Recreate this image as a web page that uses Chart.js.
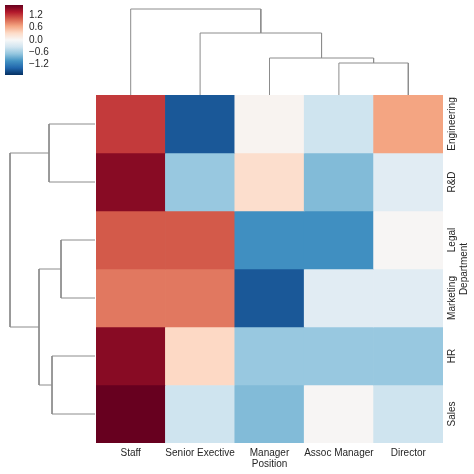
<!DOCTYPE html>
<html><head><meta charset="utf-8">
<script src="https://cdn.jsdelivr.net/npm/chart.js@4/dist/chart.umd.min.js"></script>
<style>
html,body{margin:0;padding:0;background:#fff;width:474px;height:474px;overflow:hidden}
canvas{position:absolute}
</style></head><body>
<canvas id="main" width="474" height="474" style="left:0;top:0"></canvas>
<canvas id="top" width="347" height="95" style="left:96px;top:0"></canvas>
<canvas id="left" width="95" height="348" style="left:0;top:95px"></canvas>
<canvas id="cbar" width="60" height="94" style="left:0;top:-7px"></canvas>
<script>
const positions = ["Staff","Senior Exective","Manager","Assoc Manager","Director"];
const departments = ["Engineering","R&D","Legal","Marketing","HR","Sales"];
const engineering = [1.2,-1.45,0.05,-0.35,0.68];
const rnd = [1.55,-0.65,0.3,-0.75,-0.2];
const legal = [1.05,1.05,-1.05,-1.05,0.02];
const marketing = [0.9,0.9,-1.45,-0.2,-0.2];
const hr = [1.55,0.35,-0.65,-0.65,-0.65];
const sales = [1.7,-0.35,-0.75,0.02,-0.35];
const rows = [engineering,rnd,legal,marketing,hr,sales];
const colorTicks = [-1.2,-0.6,0.0,0.6,1.2];
const vmin = -1.7, vmax = 1.7;
const colMerges = [[3,4,32],[2,"m0",37],[1,"m1",62],[0,"m2",86]];
const rowMerges = [[0,1,46],[2,3,34],[4,5,43],["m1","m2",56],["m0","m3",85]];

const FONT = "'Liberation Sans', Arial, sans-serif";
const TXT = "#262626";
const RdBu = ["#053061","#2166ac","#4393c3","#92c5de","#d1e5f0","#f7f7f7","#fddbc7","#f4a582","#d6604d","#b2182b","#67001f"];
function hex(h){return [1,3,5].map(i=>parseInt(h.substr(i,2),16));}
function cmap(v){
  let t=(v-vmin)/(vmax-vmin); t=Math.max(0,Math.min(1,t));
  const p=t*(RdBu.length-1), i=Math.min(RdBu.length-2,Math.floor(p)), f=p-i;
  const a=hex(RdBu[i]), b=hex(RdBu[i+1]);
  return "rgb("+a.map((c,k)=>Math.round(c+(b[k]-c)*f)).join(",")+")";
}

const datasets = rows.map((r,ri)=>({
  data: r.map(()=>[ri,ri+1]),
  backgroundColor: r.map(cmap),
  borderWidth:0, barPercentage:1, categoryPercentage:1, grouped:false
}));
const axisLabels = {
  id:'axisLabels',
  afterDraw(c){
    const ctx=c.ctx, y=c.scales.y, x=c.scales.x;
    ctx.save(); ctx.fillStyle=TXT; ctx.font="10px "+FONT;
    ctx.textAlign="center"; ctx.textBaseline="middle";
    departments.forEach((d,i)=>{
      ctx.save(); ctx.translate(452, y.getPixelForValue(i+0.5)); ctx.rotate(-Math.PI/2);
      ctx.fillText(d,0,0); ctx.restore();
    });
    ctx.save(); ctx.translate(464,(c.chartArea.top+c.chartArea.bottom)/2); ctx.rotate(-Math.PI/2);
    ctx.fillText("Department",0,0); ctx.restore();
    positions.forEach((p,i)=>ctx.fillText(p,x.getPixelForValue(i),453));
    ctx.fillText("Position",(c.chartArea.left+c.chartArea.right)/2,464);
    ctx.restore();
  }
};
new Chart(document.getElementById('main'),{
  type:'bar',
  data:{labels:positions,datasets},
  options:{
    responsive:false, animation:false,
    layout:{padding:{left:96,top:95,right:0,bottom:0}},
    plugins:{legend:{display:false},tooltip:{enabled:false}},
    scales:{
      x:{grid:{display:false},border:{display:false},ticks:{display:false},
         afterFit(s){s.height=31;}},
      y:{type:'linear',min:0,max:6,reverse:true,position:'right',display:true,
         grid:{display:false},border:{display:false},ticks:{display:false},
         afterFit(s){s.width=31;}}
    }
  },
  plugins:[axisLabels]
});

function buildDendro(merges){
  const pos={}, h={}, out=[];
  merges.forEach((m,i)=>{
    const k=[m[0],m[1]].map(c=>typeof c==="number"?{p:c+0.5,h:0}:{p:pos[c],h:h[c]});
    out.push([{p:k[0].p,h:k[0].h},{p:k[0].p,h:m[2]},{p:k[1].p,h:m[2]},{p:k[1].p,h:k[1].h}]);
    pos["m"+i]=(k[0].p+k[1].p)/2; h["m"+i]=m[2];
  });
  return out;
}
const lineStyle={showLine:true,borderColor:"#8c8c8c",borderWidth:1,pointRadius:0,fill:false,tension:0};
const noAxis={display:false};
new Chart(document.getElementById('top'),{
  type:'scatter',
  data:{datasets:buildDendro(colMerges).map(s=>({...lineStyle,data:s.map(q=>({x:q.p,y:q.h}))}))},
  options:{responsive:false,animation:false,layout:{padding:0},
    plugins:{legend:{display:false},tooltip:{enabled:false}},
    scales:{x:{...noAxis,type:'linear',min:0,max:5},y:{...noAxis,type:'linear',min:0,max:95}}}
});
new Chart(document.getElementById('left'),{
  type:'scatter',
  data:{datasets:buildDendro(rowMerges).map(s=>({...lineStyle,data:s.map(q=>({x:q.h,y:q.p}))}))},
  options:{responsive:false,animation:false,layout:{padding:0},
    plugins:{legend:{display:false},tooltip:{enabled:false}},
    scales:{x:{...noAxis,type:'linear',min:0,max:95,reverse:true},y:{...noAxis,type:'linear',min:0,max:6,reverse:true}}}
});
new Chart(document.getElementById('cbar'),{
  type:'bar',
  data:{labels:[""],datasets:[{data:[[vmin,vmax]],borderWidth:0,barPercentage:1,categoryPercentage:1,
    backgroundColor(ctx){
      const a=ctx.chart.chartArea; if(!a) return "#fff";
      const g=ctx.chart.ctx.createLinearGradient(0,a.bottom,0,a.top);
      RdBu.forEach((c,i)=>g.addColorStop(i/(RdBu.length-1),c)); return g;
    }}]},
  options:{responsive:false,animation:false,layout:{padding:{left:5,top:0,bottom:5,right:0}},
    plugins:{legend:{display:false},tooltip:{enabled:false}},
    scales:{x:{display:false},
      y:{type:'linear',min:vmin,max:vmax,position:'right',grid:{display:false,drawTicks:false},border:{display:false},
         afterBuildTicks(s){s.ticks=colorTicks.map(v=>({value:v}));},
         ticks:{color:TXT,font:{size:10,family:FONT},padding:6,callback:v=>v.toFixed(1).replace("-","\u2212")},
         afterFit(s){s.width=37;}}}}
});
</script></body></html>
